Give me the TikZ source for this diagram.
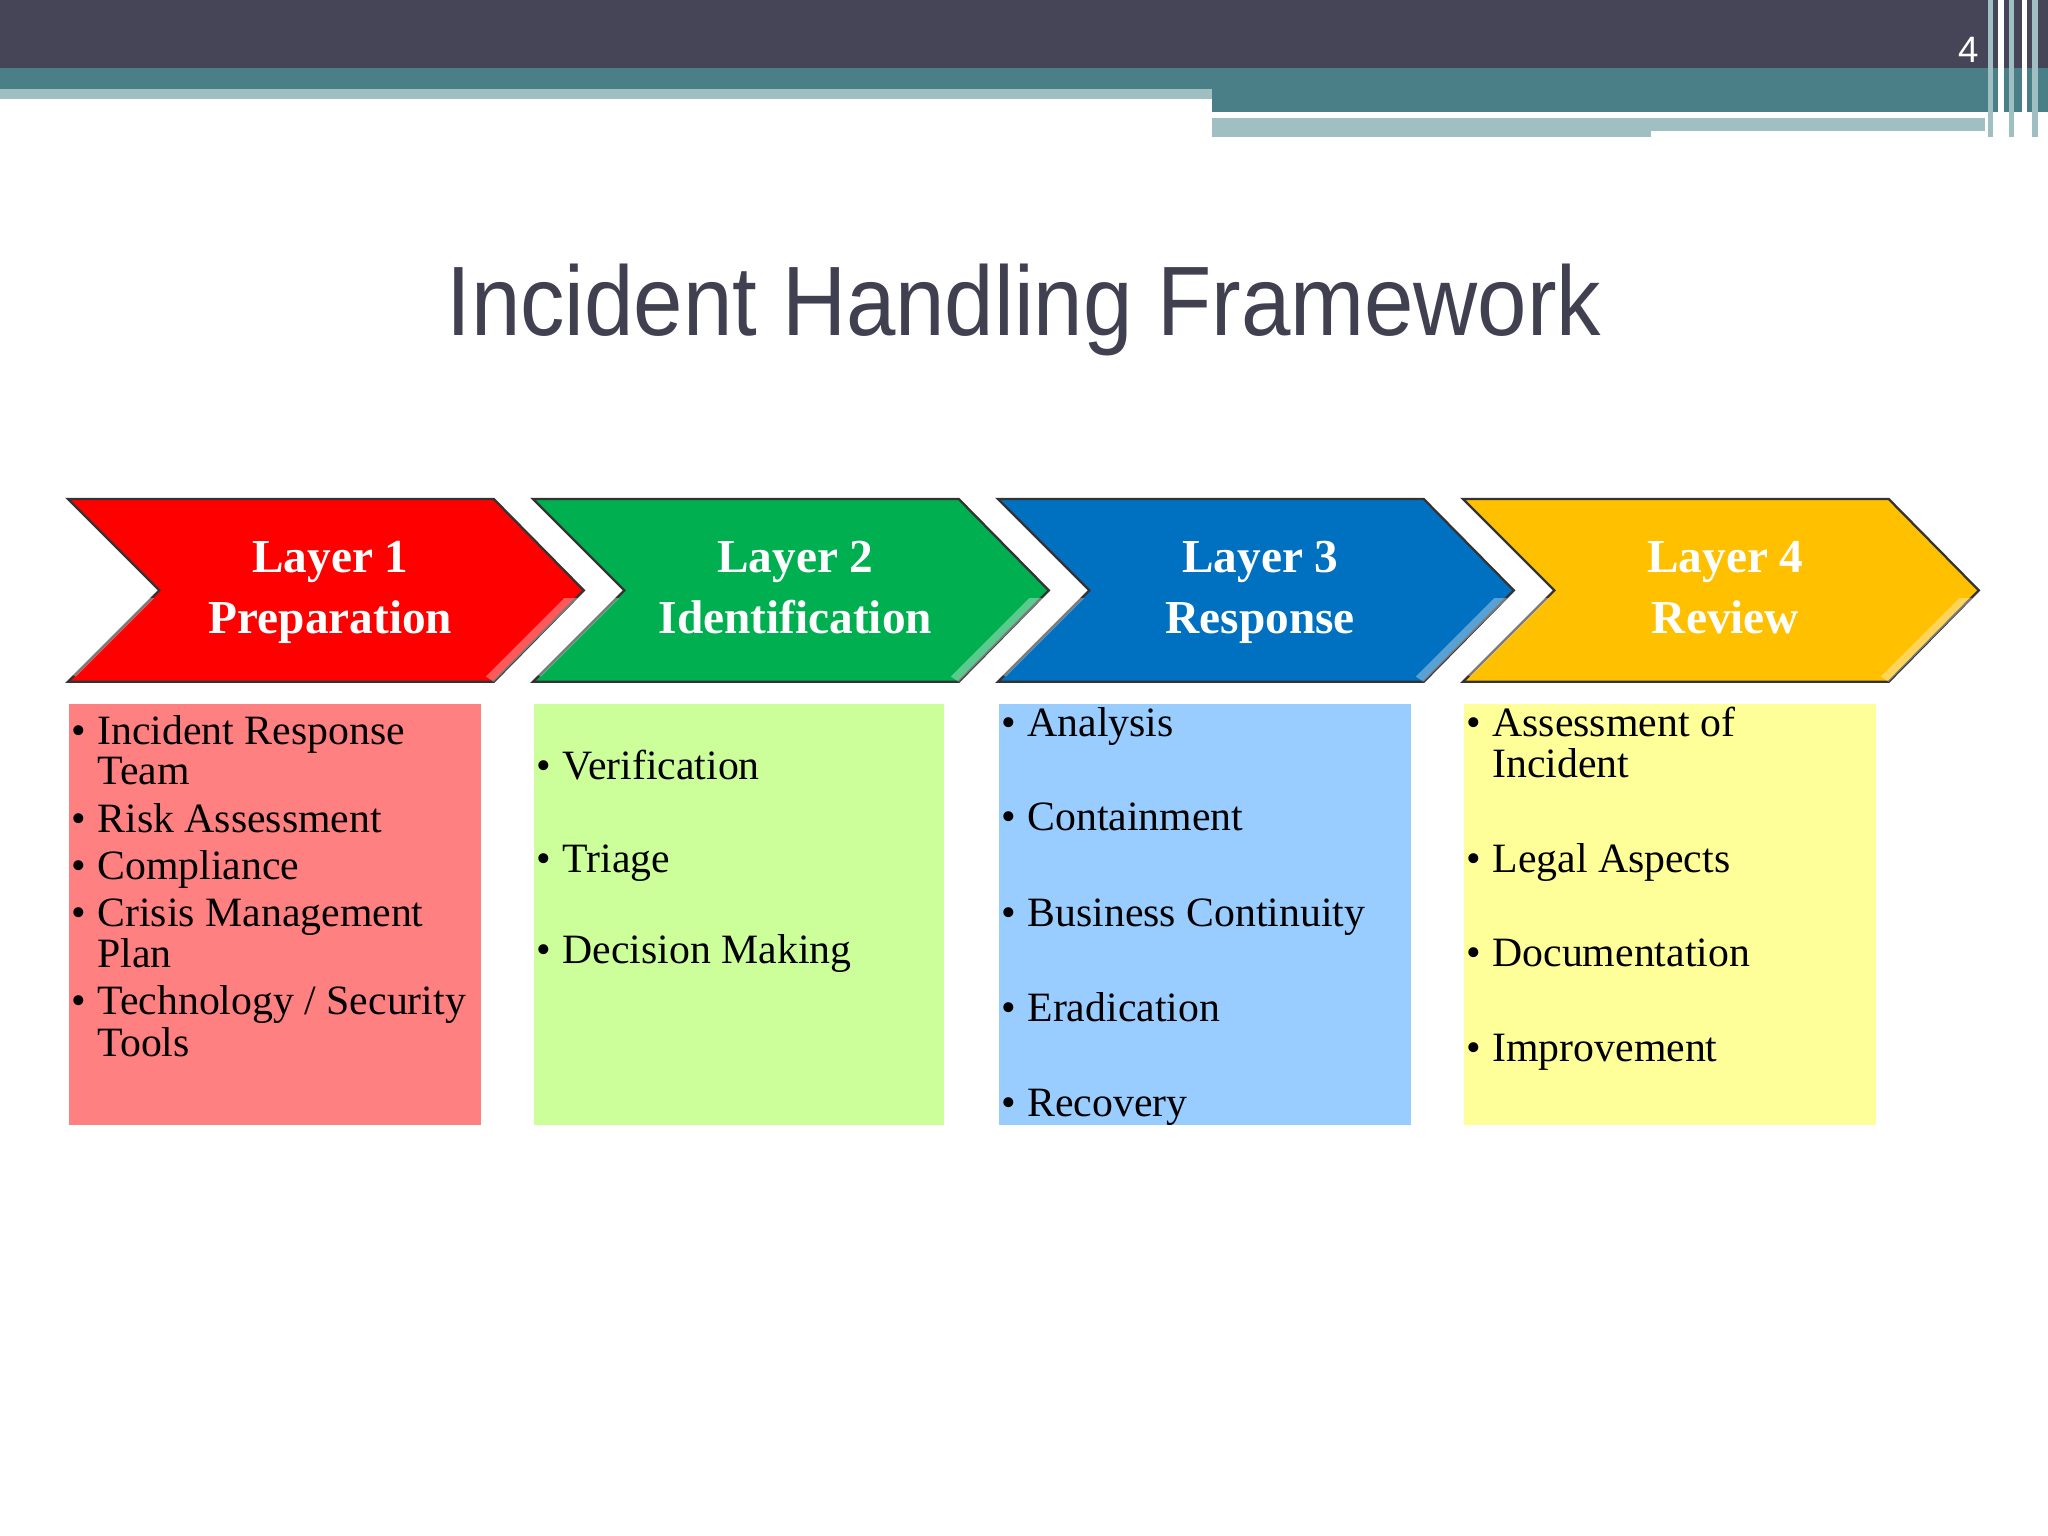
\documentclass[tikz,border=0pt]{standalone}
\usepackage{fontspec}
\setmainfont{Liberation Serif}
\newfontfamily\titlefont{Liberation Sans}
\definecolor{topdark}{HTML}{464558}
\definecolor{teal}{HTML}{4A7F88}
\definecolor{lteal}{HTML}{A0BFC3}
\definecolor{titlecol}{HTML}{404050}
\definecolor{lred}{HTML}{FF0000}
\definecolor{lgreen}{HTML}{00B050}
\definecolor{lblue}{HTML}{0070C0}
\definecolor{lyellow}{HTML}{FFC000}
\definecolor{bred}{HTML}{FF8080}
\definecolor{bgreen}{HTML}{CCFF99}
\definecolor{bblue}{HTML}{99CCFF}
\definecolor{byellow}{HTML}{FFFF99}
\tikzset{
  item/.style={anchor=base west,inner sep=0pt,font=\fontsize{9.1pt}{10pt}\selectfont},
  bul/.style={anchor=base west,inner sep=0pt,font=\fontsize{9.1pt}{10pt}\selectfont},
  hdr/.style={anchor=base,inner sep=0pt,text=white,font=\fontsize{10.3pt}{12pt}\selectfont\bfseries},
  chev/.style={draw=black!80,line width=0.5pt},
}
\begin{document}
\begin{tikzpicture}[x=0.1mm,y=-0.1mm]
\useasboundingbox (0,0) rectangle (1568,1176);
\fill[white] (0,0) rectangle (1568,1176);
% top bar
\fill[topdark] (0,0) rectangle (1568,52);
\fill[teal] (0,52) rectangle (1568,68);
\fill[lteal] (0,68) rectangle (928,76);
\fill[teal] (928,68) rectangle (1568,86);
\fill[lteal] (928,90) rectangle (1264,105);
\fill[lteal] (1264,90) rectangle (1520,100);
\fill[white] (928,86) rectangle (1452,90);
\foreach \x/\c in {1522/lteal,1530/white,1538/lteal,1548/white,1556/lteal}
  \fill[\c] (\x,0) rectangle ++(4,105);
\node[text=white,font=\titlefont\fontsize{8pt}{9pt}\selectfont] (pg) at (1507,38) {4};
% title
\node[text=titlecol,font=\titlefont\fontsize{21.5pt}{24pt}\selectfont,anchor=base] (title) at (784,257) {\scalebox{0.9}[1]{Incident Handling Framework}};
% chevrons
\foreach \dx/\c in {0/lred,356/lgreen,712/lblue,1068/lyellow}{
  \fill[\c,chev] (52+\dx,382) -- (378+\dx,382) -- (447+\dx,452) -- (378+\dx,522) -- (52+\dx,522) -- (122+\dx,452) -- cycle;
  \fill[white,opacity=0.35] (378+\dx,522) -- (442+\dx,458) -- (432+\dx,458) -- (372+\dx,518) -- cycle;
  \fill[white,opacity=0.35] (58+\dx,518) -- (118+\dx,458) -- (110+\dx,458) -- (54+\dx,516) -- cycle;
}
\node[hdr] (h1a) at (253,438) {Layer 1};
\node[hdr] (h1b) at (253,485) {Preparation};
\node[hdr] (h2a) at (609,438) {Layer 2};
\node[hdr] (h2b) at (609,485) {Identification};
\node[hdr] (h3a) at (965,438) {Layer 3};
\node[hdr] (h3b) at (965,485) {Response};
\node[hdr] (h4a) at (1321,438) {Layer 4};
\node[hdr] (h4b) at (1321,485) {Review};
% boxes
\fill[bred] (53,539) rectangle (368,861);
\fill[bgreen] (409,539) rectangle (723,861);
\fill[bblue] (765,539) rectangle (1080,861);
\fill[byellow] (1121,539) rectangle (1436,861);
% box 1
\foreach \y/\t/\b in {570/{Incident Response}/1,601/Team/0,637/{Risk Assessment}/1,673/Compliance/1,709/{Crisis Management}/1,741/Plan/0,777/{Technology / Security}/1,809/Tools/0}{
  \ifnum\b=1 \node[bul] at (54,\y) {\textbullet};\fi
  \node[item] at (74,\y) {\t};
}
\foreach \y/\t in {597/Verification,668/Triage,738/{Decision Making}}{
  \node[bul] at (410,\y) {\textbullet};
  \node[item] at (430,\y) {\t};
}
\foreach \y/\t in {564/Analysis,636/Containment,709/{Business Continuity},782/Eradication,855/Recovery}{
  \node[bul] at (766,\y) {\textbullet};
  \node[item] at (786,\y) {\t};
}
\foreach \y/\t/\b in {564/{Assessment of}/1,595/Incident/0,668/{Legal Aspects}/1,740/Documentation/1,813/Improvement/1}{
  \ifnum\b=1 \node[bul] at (1122,\y) {\textbullet};\fi
  \node[item] at (1142,\y) {\t};
}
\end{tikzpicture}
\end{document}
